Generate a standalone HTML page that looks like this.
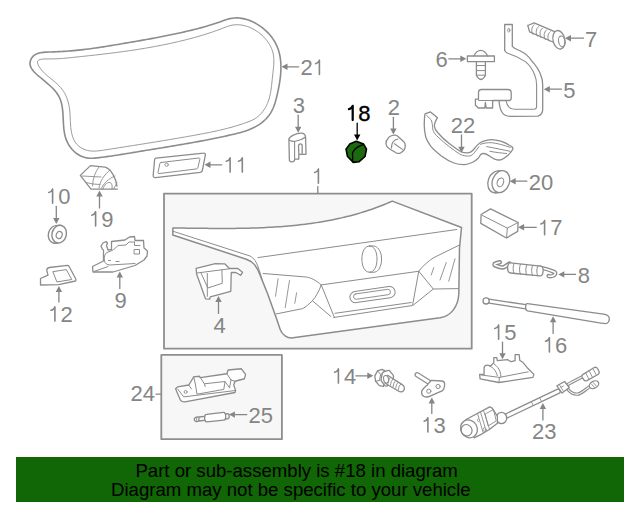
<!DOCTYPE html>
<html><head><meta charset="utf-8"><style>
html,body{margin:0;padding:0;background:#fff;width:640px;height:512px;overflow:hidden}
svg{position:absolute;left:0;top:0;font-family:"Liberation Sans",sans-serif}
</style></head><body>
<svg width="640" height="512" viewBox="0 0 640 512" stroke-linejoin="round" stroke-linecap="round">
<path d="M33.72,55.66 L35.69,54.33 L37.95,53.37 L40.42,52.74 L43.05,52.34 L45.77,52.12 L48.51,52.01 L51.22,51.93 L53.84,51.84 L56.41,51.74 L58.91,51.63 L61.38,51.51 L63.82,51.37 L66.23,51.22 L68.64,51.05 L71.05,50.86 L73.47,50.64 L75.90,50.41 L78.35,50.16 L80.80,49.90 L83.25,49.61 L85.72,49.31 L88.19,49.00 L90.66,48.67 L93.14,48.33 L95.63,47.97 L98.11,47.61 L100.61,47.24 L103.10,46.85 L105.59,46.46 L108.08,46.06 L110.58,45.66 L113.07,45.25 L115.56,44.83 L118.05,44.42 L120.53,43.99 L123.01,43.57 L125.49,43.15 L127.96,42.73 L130.42,42.30 L132.88,41.88 L135.34,41.45 L137.79,41.02 L140.24,40.59 L142.69,40.16 L145.13,39.72 L147.58,39.28 L150.02,38.84 L152.46,38.39 L154.90,37.93 L157.35,37.47 L159.79,37.00 L162.23,36.53 L164.68,36.05 L167.12,35.56 L169.57,35.07 L172.03,34.56 L174.48,34.05 L176.94,33.52 L179.40,32.99 L181.87,32.44 L184.33,31.89 L186.80,31.32 L189.26,30.74 L191.72,30.14 L194.18,29.53 L196.63,28.90 L199.07,28.26 L201.51,27.61 L203.94,26.93 L206.36,26.24 L208.76,25.53 L211.16,24.80 L213.54,24.04 L215.91,23.27 L218.26,22.48 L220.59,21.66 L222.90,20.83 L225.21,20.00 L227.52,19.24 L229.84,18.61 L232.21,18.18 L234.60,17.95 L237.01,17.91 L239.44,18.05 L241.87,18.37 L244.30,18.86 L246.72,19.51 L249.11,20.31 L251.47,21.26 L253.80,22.34 L256.08,23.56 L258.30,24.90 L260.46,26.35 L262.55,27.91 L264.56,29.57 L266.48,31.33 L268.30,33.17 L270.01,35.09 L271.61,37.07 L273.08,39.12 L274.43,41.23 L275.63,43.38 L276.70,45.58 L277.63,47.81 L278.43,50.09 L279.11,52.40 L279.68,54.74 L280.13,57.11 L280.48,59.51 L280.72,61.93 L280.87,64.37 L280.93,66.83 L280.91,69.31 L280.81,71.80 L280.63,74.31 L280.39,76.81 L280.08,79.33 L279.72,81.85 L279.31,84.36 L278.85,86.88 L278.36,89.38 L277.83,91.88 L277.27,94.37 L276.68,96.85 L276.06,99.30 L275.39,101.72 L274.65,104.11 L273.81,106.44 L272.86,108.73 L271.79,110.94 L270.56,113.08 L269.17,115.14 L267.61,117.11 L265.93,118.96 L264.12,120.71 L262.23,122.32 L260.25,123.80 L258.21,125.16 L256.09,126.40 L253.91,127.54 L251.68,128.59 L249.40,129.54 L247.07,130.42 L244.71,131.23 L242.31,131.97 L239.88,132.66 L237.44,133.31 L234.97,133.92 L232.50,134.50 L230.02,135.07 L227.55,135.62 L225.08,136.17 L222.60,136.70 L220.13,137.22 L217.66,137.74 L215.20,138.25 L212.73,138.75 L210.27,139.24 L207.80,139.72 L205.34,140.20 L202.88,140.67 L200.42,141.13 L197.96,141.59 L195.50,142.04 L193.04,142.49 L190.59,142.93 L188.13,143.36 L185.68,143.80 L183.22,144.22 L180.77,144.65 L178.32,145.06 L175.86,145.48 L173.41,145.89 L170.96,146.30 L168.51,146.71 L166.05,147.12 L163.60,147.52 L161.15,147.92 L158.70,148.32 L156.25,148.72 L153.80,149.12 L151.34,149.52 L148.89,149.93 L146.44,150.33 L143.99,150.73 L141.54,151.13 L139.08,151.54 L136.63,151.94 L134.17,152.35 L131.72,152.76 L129.26,153.17 L126.80,153.58 L124.34,153.99 L121.87,154.39 L119.39,154.79 L116.91,155.18 L114.42,155.57 L111.93,155.94 L109.42,156.31 L106.90,156.66 L104.38,157.00 L101.84,157.32 L99.28,157.63 L96.72,157.92 L94.15,158.15 L91.61,158.25 L89.10,158.18 L86.66,157.87 L84.29,157.31 L82.01,156.51 L79.82,155.49 L77.73,154.27 L75.76,152.85 L73.91,151.26 L72.19,149.50 L70.62,147.61 L69.20,145.58 L67.94,143.43 L66.85,141.19 L65.94,138.86 L65.21,136.46 L64.64,134.00 L64.20,131.48 L63.87,128.93 L63.62,126.35 L63.44,123.74 L63.30,121.13 L63.18,118.52 L63.05,115.92 L62.90,113.34 L62.69,110.79 L62.41,108.29 L62.03,105.84 L61.53,103.45 L60.89,101.14 L60.08,98.90 L59.08,96.77 L57.89,94.72 L56.54,92.76 L55.03,90.86 L53.39,89.03 L51.64,87.25 L49.78,85.50 L47.85,83.79 L45.86,82.09 L43.83,80.40 L41.78,78.71 L39.72,77.00 L37.68,75.27 L35.73,73.51 L33.95,71.70 L32.41,69.84 L31.18,67.91 L30.35,65.91 L29.99,63.83 L30.16,61.65 L30.89,59.46 L32.10,57.42Z" stroke="#8c8c8c" stroke-width="1.6" fill="none" />
<path d="M37.76,60.96 L38.89,59.94 L40.77,59.33 L43.18,59.02 L45.93,58.93 L48.80,58.93 L51.60,58.92 L54.25,58.87 L56.77,58.77 L59.18,58.65 L61.50,58.49 L63.76,58.30 L65.97,58.10 L68.17,57.88 L70.35,57.66 L72.56,57.43 L74.78,57.20 L77.01,56.97 L79.27,56.74 L81.53,56.50 L83.81,56.26 L86.10,56.01 L88.41,55.76 L90.72,55.51 L93.04,55.26 L95.37,55.00 L97.70,54.74 L100.04,54.47 L102.38,54.20 L104.73,53.92 L107.08,53.64 L109.43,53.35 L111.79,53.06 L114.14,52.77 L116.48,52.47 L118.83,52.16 L121.17,51.85 L123.51,51.53 L125.83,51.21 L128.16,50.88 L130.47,50.54 L132.78,50.20 L135.09,49.85 L137.39,49.49 L139.68,49.13 L141.97,48.76 L144.26,48.38 L146.54,47.99 L148.82,47.59 L151.10,47.19 L153.38,46.78 L155.65,46.35 L157.92,45.92 L160.20,45.48 L162.47,45.03 L164.74,44.57 L167.02,44.09 L169.30,43.61 L171.57,43.12 L173.85,42.61 L176.14,42.10 L178.42,41.57 L180.71,41.03 L182.99,40.48 L185.28,39.91 L187.57,39.34 L189.85,38.74 L192.13,38.14 L194.41,37.52 L196.68,36.88 L198.95,36.24 L201.21,35.57 L203.47,34.89 L205.71,34.19 L207.95,33.48 L210.18,32.75 L212.40,32.01 L214.60,31.24 L216.80,30.46 L218.98,29.66 L221.14,28.84 L223.29,28.01 L225.44,27.18 L227.58,26.40 L229.74,25.73 L231.92,25.20 L234.13,24.86 L236.37,24.71 L238.63,24.75 L240.90,24.96 L243.17,25.35 L245.42,25.89 L247.66,26.60 L249.87,27.45 L252.04,28.44 L254.16,29.57 L256.22,30.82 L258.22,32.19 L260.14,33.67 L261.97,35.26 L263.71,36.94 L265.34,38.71 L266.86,40.56 L268.25,42.48 L269.51,44.47 L270.62,46.51 L271.58,48.61 L272.38,50.75 L273.00,52.93 L273.45,55.14 L273.73,57.37 L273.86,59.62 L273.87,61.90 L273.78,64.20 L273.62,66.51 L273.39,68.84 L273.13,71.18 L272.85,73.53 L272.59,75.90 L272.34,78.27 L272.10,80.64 L271.85,83.01 L271.59,85.37 L271.30,87.73 L270.96,90.06 L270.58,92.38 L270.13,94.67 L269.60,96.92 L268.99,99.15 L268.28,101.33 L267.45,103.47 L266.51,105.56 L265.43,107.60 L264.22,109.56 L262.89,111.44 L261.43,113.22 L259.84,114.88 L258.12,116.42 L256.28,117.81 L254.32,119.04 L252.25,120.12 L250.09,121.07 L247.88,121.94 L245.65,122.76 L243.41,123.54 L241.17,124.29 L238.93,125.02 L236.68,125.72 L234.42,126.39 L232.17,127.03 L229.91,127.66 L227.65,128.26 L225.38,128.84 L223.11,129.40 L220.84,129.94 L218.57,130.46 L216.29,130.97 L214.02,131.46 L211.74,131.94 L209.45,132.41 L207.17,132.87 L204.89,133.31 L202.60,133.75 L200.31,134.18 L198.03,134.61 L195.74,135.03 L193.45,135.44 L191.16,135.85 L188.86,136.26 L186.57,136.67 L184.28,137.08 L181.99,137.48 L179.69,137.88 L177.40,138.27 L175.10,138.67 L172.80,139.06 L170.51,139.45 L168.21,139.83 L165.91,140.22 L163.61,140.60 L161.31,140.98 L159.01,141.36 L156.71,141.74 L154.40,142.11 L152.10,142.49 L149.79,142.86 L147.49,143.23 L145.18,143.60 L142.87,143.97 L140.57,144.34 L138.26,144.71 L135.95,145.08 L133.63,145.44 L131.32,145.81 L129.01,146.17 L126.70,146.54 L124.38,146.90 L122.06,147.27 L119.75,147.63 L117.43,147.99 L115.11,148.36 L112.79,148.72 L110.47,149.09 L108.14,149.45 L105.82,149.82 L103.50,150.18 L101.17,150.53 L98.85,150.82 L96.54,151.03 L94.24,151.13 L91.95,151.09 L89.67,150.87 L87.42,150.44 L85.18,149.78 L82.99,148.85 L80.89,147.69 L78.96,146.31 L77.26,144.73 L75.80,142.97 L74.57,141.05 L73.54,139.00 L72.70,136.84 L72.02,134.59 L71.49,132.28 L71.09,129.91 L70.79,127.53 L70.57,125.14 L70.42,122.77 L70.31,120.42 L70.21,118.08 L70.11,115.75 L69.98,113.44 L69.79,111.13 L69.52,108.82 L69.16,106.53 L68.70,104.25 L68.14,101.99 L67.47,99.77 L66.68,97.60 L65.77,95.48 L64.73,93.42 L63.56,91.44 L62.25,89.53 L60.80,87.72 L59.22,85.99 L57.53,84.33 L55.75,82.73 L53.92,81.17 L52.05,79.63 L50.18,78.10 L48.32,76.56 L46.50,75.00 L44.76,73.39 L43.10,71.73 L41.56,70.00 L40.16,68.18 L38.93,66.26 L37.97,64.29 L37.51,62.46Z" stroke="#9a9a9a" stroke-width="1.0" fill="none" />
<rect x="164" y="193.6" width="307.7" height="155.1" fill="#f7f7f7" stroke="#8e8e8e" stroke-width="1.8"/>
<rect x="161.3" y="354.9" width="120.6" height="84.3" fill="#f7f7f7" stroke="#8e8e8e" stroke-width="1.8"/>
<path d="M172.86,227.95 L175.65,227.98 L178.44,228.02 L181.23,228.05 L184.03,228.09 L186.84,228.13 L189.64,228.16 L192.45,228.20 L195.26,228.23 L198.07,228.27 L200.89,228.30 L203.71,228.33 L206.53,228.35 L209.35,228.38 L212.18,228.40 L215.00,228.41 L217.83,228.42 L220.66,228.43 L223.49,228.43 L226.32,228.43 L229.15,228.42 L231.98,228.40 L234.82,228.38 L237.65,228.34 L240.48,228.30 L243.32,228.26 L246.15,228.20 L248.99,228.13 L251.82,228.06 L254.65,227.97 L257.48,227.88 L260.32,227.77 L263.15,227.65 L265.98,227.52 L268.80,227.37 L271.63,227.22 L274.46,227.05 L277.28,226.87 L280.10,226.67 L282.92,226.46 L285.74,226.23 L288.55,225.99 L291.37,225.73 L294.18,225.46 L296.98,225.17 L299.79,224.86 L302.59,224.54 L305.39,224.19 L308.18,223.83 L310.97,223.45 L313.76,223.05 L316.54,222.63 L319.32,222.19 L322.10,221.73 L324.87,221.25 L327.63,220.75 L330.40,220.22 L333.15,219.67 L335.90,219.10 L338.65,218.51 L341.39,217.89 L344.13,217.25 L346.86,216.59 L349.58,215.90 L352.30,215.18 L355.01,214.44 L357.72,213.67 L360.42,212.87 L363.11,212.05 L365.80,211.20 L368.48,210.32 L371.15,209.42 L373.82,208.48 L376.48,207.51 L379.13,206.52 L381.77,205.49 L384.41,204.44 L387.04,203.35 L389.66,202.23 L392.27,201.08 L461.5,227.5 L459.5,248 L458.8,294 C458,307 451,316 440,317.8 L293,337.8 C287,338.5 282,334.5 280.2,329.5 L276.4,318.3 L267.6,293.7 L260.5,276.1 C258,269 256,265 251,261.5 L246.25,259.2 L172.8,235 Z" stroke="#8c8c8c" stroke-width="1.5" fill="#ffffff" />
<path d="M172.8,231.2 L250,256 C254,258 256.5,262 258.5,268 L262,279" stroke="#8c8c8c" stroke-width="1.0" fill="none" />
<path d="M257.9,257.6 L456.8,229.5" stroke="#8c8c8c" stroke-width="1.0" fill="none" />
<path d="M369.5,246 C364.5,246 361.9,252 361.9,259 C361.9,266 364.5,272.2 369.5,272.2 C374.5,272.2 377,266 377,259 C377,252 374.5,246 369.5,246Z" stroke="#8c8c8c" stroke-width="1.0" fill="none" />
<path d="M369.5,246 C373,245.5 375,246 376.5,247 C379.5,249 381.6,253.5 381.6,259 C381.6,264.5 379.5,270 376.5,271.5 C374.5,272.5 372,272.5 369.5,272.2" stroke="#8c8c8c" stroke-width="1.0" fill="none" />
<path d="M263.2,273.5 L306.2,277 C310,277.5 316,280 321.2,284.9 C319.5,290 316,297 312.4,300.7 C309,304 306,307 302.7,308.6 L276.4,313.9" stroke="#8c8c8c" stroke-width="1.0" fill="none" />
<path d="M278.1,278.7 L275.5,296.3 M289.5,280.5 L285.2,307.7 M296.6,292.8 L294.8,303.3" stroke="#8c8c8c" stroke-width="0.9" fill="none" />
<path d="M321.2,284.9 L418.75,271.25 M321.2,284.9 L334.4,317.4 M312.4,300.7 L330.9,316.5 M418.75,271.25 L412.5,305.5 L333.75,317.5 M335,313.3 L411.3,302.5" stroke="#8c8c8c" stroke-width="1.0" fill="none" />
<path d="M418.75,271.25 L433.3,289 L458.5,288.6 M433.3,289 L413.2,305.2 M418.75,271.25 C422,267 428,261 434,257.5 L459.5,245" stroke="#8c8c8c" stroke-width="1.0" fill="none" />
<path d="M431.25,275 L433.75,267.5 M440,280 L446.25,262.5 M448.75,281.25 L455,258.75" stroke="#8c8c8c" stroke-width="0.9" fill="none" />
<rect x="349.70" y="289.00" width="45.6" height="11.2" rx="5.6" transform="rotate(-8.2 372.5 294.6)" fill="none" stroke="#8c8c8c" stroke-width="1.0"/>
<rect x="353.35" y="291.60" width="37.3" height="5.4" rx="2.7" transform="rotate(-8.2 372.0 294.3)" fill="none" stroke="#8c8c8c" stroke-width="0.9"/>
<text x="300.49" y="75.10" fill="#858585" font-size="22.0">2</text>
<path d="M319.4,74.5 L319.4,60.3 M319.4,60.4 C318.5,62.5 317.0,63.5 315.6,63.7" stroke="#858585" stroke-width="1.6" fill="none"/>
<text x="584.97" y="46.60" fill="#858585" font-size="22.0">7</text>
<text x="435.58" y="66.90" fill="#858585" font-size="22.0">6</text>
<text x="563.22" y="97.50" fill="#858585" font-size="22.0">5</text>
<text x="292.76" y="113.40" fill="#858585" font-size="22.0">3</text>
<text x="387.79" y="115.10" fill="#858585" font-size="22.0">2</text>
<text x="450.64" y="133.10" fill="#858585" font-size="22.0">2</text>
<text x="462.88" y="133.10" fill="#858585" font-size="22.0">2</text>
<path d="M230.1,172.1 L230.1,157.9 M230.1,158.0 C229.2,160.1 227.7,161.1 226.3,161.3" stroke="#858585" stroke-width="1.6" fill="none"/>
<path d="M242.3,172.1 L242.3,157.9 M242.3,158.0 C241.4,160.1 239.9,161.1 238.5,161.3" stroke="#858585" stroke-width="1.6" fill="none"/>
<path d="M318.4,183.3 L318.4,169.1 M318.4,169.2 C317.5,171.3 315.9,172.3 314.6,172.5" stroke="#858585" stroke-width="1.6" fill="none"/>
<text x="528.64" y="189.60" fill="#858585" font-size="22.0">2</text>
<text x="540.88" y="189.60" fill="#858585" font-size="22.0">0</text>
<path d="M52.6,203.3 L52.6,189.1 M52.6,189.2 C51.7,191.3 50.2,192.3 48.8,192.5" stroke="#858585" stroke-width="1.6" fill="none"/>
<text x="58.19" y="203.90" fill="#858585" font-size="22.0">0</text>
<path d="M95.6,226.0 L95.6,211.8 M95.6,211.9 C94.7,214.0 93.2,215.0 91.8,215.2" stroke="#858585" stroke-width="1.6" fill="none"/>
<text x="101.19" y="226.60" fill="#858585" font-size="22.0">9</text>
<path d="M544.6,234.8 L544.6,220.6 M544.6,220.7 C543.7,222.8 542.2,223.8 540.8,224.0" stroke="#858585" stroke-width="1.6" fill="none"/>
<text x="550.19" y="235.40" fill="#858585" font-size="22.0">7</text>
<text x="577.64" y="282.90" fill="#858585" font-size="22.0">8</text>
<path d="M54.9,321.1 L54.9,306.9 M54.9,307.0 C54.0,309.1 52.5,310.1 51.0,310.3" stroke="#858585" stroke-width="1.6" fill="none"/>
<text x="60.44" y="321.70" fill="#858585" font-size="22.0">2</text>
<text x="114.47" y="307.50" fill="#858585" font-size="22.0">9</text>
<text x="213.40" y="332.50" fill="#858585" font-size="22.0">4</text>
<path d="M549.4,352.0 L549.4,337.8 M549.4,337.9 C548.5,340.0 547.0,341.0 545.5,341.2" stroke="#858585" stroke-width="1.6" fill="none"/>
<text x="554.94" y="352.60" fill="#858585" font-size="22.0">6</text>
<path d="M498.6,339.3 L498.6,325.1 M498.6,325.2 C497.7,327.3 496.2,328.3 494.8,328.5" stroke="#858585" stroke-width="1.6" fill="none"/>
<text x="504.19" y="339.90" fill="#858585" font-size="22.0">5</text>
<path d="M338.4,383.1 L338.4,368.9 M338.4,369.0 C337.5,371.1 335.9,372.1 334.6,372.3" stroke="#858585" stroke-width="1.6" fill="none"/>
<text x="343.94" y="383.70" fill="#858585" font-size="22.0">4</text>
<path d="M427.9,432.0 L427.9,417.8 M427.9,417.9 C427.0,420.0 425.4,421.0 424.1,421.2" stroke="#858585" stroke-width="1.6" fill="none"/>
<text x="433.44" y="432.60" fill="#858585" font-size="22.0">3</text>
<text x="531.89" y="438.90" fill="#858585" font-size="22.0">2</text>
<text x="544.13" y="438.90" fill="#858585" font-size="22.0">3</text>
<text x="130.49" y="401.40" fill="#858585" font-size="22.0">2</text>
<text x="142.73" y="401.40" fill="#858585" font-size="22.0">4</text>
<text x="248.49" y="422.90" fill="#858585" font-size="22.0">2</text>
<text x="260.73" y="422.90" fill="#858585" font-size="22.0">5</text>
<path d="M352.7,120.0 L352.7,105.8 M352.7,105.9 C351.8,108.0 350.3,109.0 348.9,109.2" stroke="#000000" stroke-width="2.25" fill="none"/>
<text x="358.29" y="120.60" fill="#000000" font-size="22.0" stroke="#000000" stroke-width="0.35">8</text>
<line x1="298.6" y1="66.8" x2="286.5" y2="66.8" stroke="#858585" stroke-width="1.3"/>
<path d="M281.5,66.8 L287.5,63.6 L287.5,70.0 Z" fill="#858585"/>
<line x1="583.5" y1="38.2" x2="570.0" y2="38.2" stroke="#858585" stroke-width="1.3"/>
<path d="M565.0,38.2 L571.0,35.0 L571.0,41.4 Z" fill="#858585"/>
<line x1="448.8" y1="58.8" x2="461.3" y2="58.8" stroke="#858585" stroke-width="1.3"/>
<path d="M466.3,58.8 L460.3,62.0 L460.3,55.6 Z" fill="#858585"/>
<line x1="561.5" y1="89.2" x2="548.8" y2="89.2" stroke="#858585" stroke-width="1.3"/>
<path d="M543.8,89.2 L549.8,86.0 L549.8,92.4 Z" fill="#858585"/>
<line x1="298.2" y1="115.2" x2="298.2" y2="127.7" stroke="#858585" stroke-width="1.3"/>
<path d="M298.2,132.7 L295.0,126.7 L301.4,126.7 Z" fill="#858585"/>
<line x1="357.2" y1="123.1" x2="357.2" y2="135.4" stroke="#000000" stroke-width="1.3"/>
<path d="M357.2,140.4 L354.0,134.4 L360.4,134.4 Z" fill="#000000"/>
<line x1="393.4" y1="117.3" x2="393.4" y2="129.6" stroke="#858585" stroke-width="1.3"/>
<path d="M393.4,134.6 L390.2,128.6 L396.6,128.6 Z" fill="#858585"/>
<line x1="461.5" y1="135.0" x2="461.5" y2="147.8" stroke="#858585" stroke-width="1.3"/>
<path d="M461.5,152.8 L458.3,146.8 L464.7,146.8 Z" fill="#858585"/>
<line x1="221.7" y1="164.8" x2="209.5" y2="164.8" stroke="#858585" stroke-width="1.3"/>
<path d="M204.5,164.8 L210.5,161.6 L210.5,168.0 Z" fill="#858585"/>
<line x1="317.8" y1="186.6" x2="317.8" y2="193" stroke="#858585" stroke-width="1.3"/>
<line x1="526.8" y1="181.2" x2="514.7" y2="181.2" stroke="#858585" stroke-width="1.3"/>
<path d="M509.7,181.2 L515.7,178.0 L515.7,184.4 Z" fill="#858585"/>
<line x1="56.3" y1="206.3" x2="56.3" y2="219.0" stroke="#858585" stroke-width="1.3"/>
<path d="M56.3,224.0 L53.1,218.0 L59.5,218.0 Z" fill="#858585"/>
<line x1="99.5" y1="208.0" x2="99.5" y2="195.5" stroke="#858585" stroke-width="1.3"/>
<path d="M99.5,190.5 L102.7,196.5 L96.3,196.5 Z" fill="#858585"/>
<line x1="536.3" y1="227.3" x2="523.1" y2="227.3" stroke="#858585" stroke-width="1.3"/>
<path d="M518.1,227.3 L524.1,224.1 L524.1,230.5 Z" fill="#858585"/>
<line x1="575.5" y1="274.4" x2="563.3" y2="274.4" stroke="#858585" stroke-width="1.3"/>
<path d="M558.3,274.4 L564.3,271.2 L564.3,277.6 Z" fill="#858585"/>
<line x1="58.9" y1="302.1" x2="58.9" y2="291.1" stroke="#858585" stroke-width="1.3"/>
<path d="M58.9,286.1 L62.1,292.1 L55.7,292.1 Z" fill="#858585"/>
<line x1="119.8" y1="288.6" x2="119.8" y2="276.6" stroke="#858585" stroke-width="1.3"/>
<path d="M119.8,271.6 L123.0,277.6 L116.6,277.6 Z" fill="#858585"/>
<line x1="218.5" y1="313.4" x2="218.5" y2="301.0" stroke="#858585" stroke-width="1.3"/>
<path d="M218.5,296.0 L221.7,302.0 L215.3,302.0 Z" fill="#858585"/>
<line x1="553.1" y1="333.4" x2="553.1" y2="321.3" stroke="#858585" stroke-width="1.3"/>
<path d="M553.1,316.3 L556.3,322.3 L549.9,322.3 Z" fill="#858585"/>
<line x1="502.5" y1="342.2" x2="502.5" y2="354.2" stroke="#858585" stroke-width="1.3"/>
<path d="M502.5,359.2 L499.3,353.2 L505.7,353.2 Z" fill="#858585"/>
<line x1="355.8" y1="375.8" x2="368.3" y2="375.8" stroke="#858585" stroke-width="1.3"/>
<path d="M373.3,375.8 L367.3,379.0 L367.3,372.6 Z" fill="#858585"/>
<line x1="431.8" y1="413.4" x2="431.8" y2="402.5" stroke="#858585" stroke-width="1.3"/>
<path d="M431.8,397.5 L435.0,403.5 L428.6,403.5 Z" fill="#858585"/>
<line x1="542.9" y1="420.0" x2="542.9" y2="408.0" stroke="#858585" stroke-width="1.3"/>
<path d="M542.9,403.0 L546.1,409.0 L539.7,409.0 Z" fill="#858585"/>
<line x1="156.1" y1="394.2" x2="160.5" y2="394.2" stroke="#858585" stroke-width="1.3"/>
<line x1="246.8" y1="414.6" x2="233.9" y2="414.6" stroke="#858585" stroke-width="1.3"/>
<path d="M228.9,414.6 L234.9,411.4 L234.9,417.8 Z" fill="#858585"/>
<rect x="16" y="457" width="608" height="45" fill="#116605"/>
<text x="135.4" y="476.8" font-size="18.6" fill="#000">Part or sub-assembly is #18 in diagram</text>
<text x="111" y="496.2" font-size="18.6" fill="#000">Diagram may not be specific to your vehicle</text>
<path d="M288.9,139 C289.5,136.5 296,133 301.5,133.2 C303.5,133.3 305.3,134.8 305.6,137 L306,154.3 L298.9,154.3 L298.5,146 C298.6,144.5 299.4,143.8 300.4,143.8 C301.4,143.8 302.2,144.6 302.2,146 L302.2,154.3 M298.9,154.3 L298.7,159.1 L294.8,159.1 L294.3,160.8 C293,162.2 290.5,162.3 289.4,160.6 L288.9,139" stroke="#8c8c8c" stroke-width="1.3" fill="none" />
<path d="M289.4,140 C291,141.3 293,141.6 295,141.3 C299,140.5 303,139 305.4,137 M294.6,141.3 L294.6,159" stroke="#8c8c8c" stroke-width="1.1" fill="none" />
<path d="M394.2,135.2 C391.5,135.5 389,136.8 388,138.5 C386.5,140 385.8,142 386,144 C386.3,146.3 387.3,147.6 389,148.5 L396.4,153 C398,153.6 399.5,153.6 400.5,153 C403.5,151 405.3,149 405.2,146.4 L405,143.7 C404.8,142.8 404,141.8 403,141 L397.5,136 C396.5,135.3 395.3,135.1 394.2,135.2Z" stroke="#8c8c8c" stroke-width="1.3" fill="none" />
<path d="M391.5,148 C391.5,145 392.3,142.5 393.5,141.3 C394.8,140 396.3,139.2 398,139 M394.5,143.7 L402.4,149.4" stroke="#8c8c8c" stroke-width="1.1" fill="none" />
<path d="M346,149.2 L349.7,144.1 L356.2,141.2 L363.6,144.1 L366.5,149.2 L365,156.5 L359.2,161.7 L353.3,162.4 L347.5,156.5 Z" stroke="#000" stroke-width="1.6" fill="#1c6a0e" />
<path d="M352.8,161.8 L352.5,153 C354,149.5 358,146.3 363,144.6" stroke="#000" stroke-width="1.3" fill="none" />
<path d="M156,158.2 L203.5,153.2 C205,153 205.6,154 205.3,155.2 L202.3,170.8 C202,171.8 201.2,172.2 200.4,172.3 L155.5,177.6 C154,177.8 153,176.8 153.2,175.3 L154.6,159.6 C154.8,158.8 155.2,158.3 156,158.2Z" stroke="#8c8c8c" stroke-width="1.3" fill="none" />
<path d="M161,162.5 L198.8,158 C199.6,157.9 200,158.4 199.9,159.2 L197.8,167.9 C197.6,168.5 197.2,168.8 196.6,168.9 L159,173.6 C158.3,173.7 157.9,173.2 158,172.4 L159.9,163.4 C160.1,162.9 160.5,162.6 161,162.5Z" stroke="#8c8c8c" stroke-width="1.0" fill="none" />
<circle cx="166.6" cy="164.7" r="1.7" fill="none" stroke="#8c8c8c" stroke-width="0.9"/>
<path d="M80.3,175.4 L90.5,165.6 L105.2,167.2 C111,169 116,178 117,186.2 M80.3,175.4 L91,189.1 L117.4,189.1" stroke="#8c8c8c" stroke-width="1.3" fill="none" />
<path d="M82,176 L101,177 M86,182.5 L93,184 L100,184.5 M99,167 C95,172 93,178 92.5,186 M110,170 C104,175 100,181 99,188 M115,176 C108,179 104,183 101,189 M103,189 C104,185 107,182 110,182.5 C112,183 112.5,186 112,189 M113.5,189 L117,183" stroke="#8c8c8c" stroke-width="0.9" fill="none" />
<ellipse cx="55.6" cy="234.4" rx="7.2" ry="8.9" transform="rotate(15 55.6 234.4)" fill="#fff" stroke="#8c8c8c" stroke-width="1.4"/>
<path d="M56.3,225.6 L59.9,225.3 M54.8,243.3 L58.4,243" stroke="#8c8c8c" stroke-width="1.4" fill="none" />
<ellipse cx="59.2" cy="234.1" rx="7.2" ry="8.9" transform="rotate(15 59.2 234.1)" fill="#fff" stroke="#8c8c8c" stroke-width="1.4"/>
<ellipse cx="59.2" cy="235" rx="2.9" ry="3.6" transform="rotate(20 59.2 235)" fill="none" stroke="#8c8c8c" stroke-width="1.2"/>
<path d="M196.1,268.3 L215.3,263.6 L224.7,263.8 L229.4,268.5 L237.8,268.5 L242.5,272.3 L240.6,275.3 L235.9,272.5 L231.25,272.3 L230.8,291.3 L210.2,296.9 L209.7,299.2 L205.5,298.8 L196.6,274 Z" stroke="#8c8c8c" stroke-width="1.3" fill="#ffffff" />
<path d="M197,273 L229.4,268.8 M200.8,272.5 L207.8,288 L222.3,283.3 L221.9,270.2 M207.3,273.5 L207.3,296.4" stroke="#8c8c8c" stroke-width="1.0" fill="none" />
<path d="M93,272 L113,272 L135,265.5 L144,260 L147,256 L147.5,251 L144,248 L143.5,240.5 L135,240.5 L134.5,236.5 L129.5,237 L125,240 L111.5,241.5 L111.5,249.5 L108,250 L106.5,245.5 L107.5,243 L106,241.5 L103,243 L101,246 L102.5,249.5 L103.5,250 L103.5,261 L92.5,266.5 Z" stroke="#8c8c8c" stroke-width="1.3" fill="#ffffff" />
<path d="M94,271.5 L108,266.5 M104.2,260.5 C105,263.5 107,265 110,265 L135,263.5 M104.2,260.5 C104,256 105,253 108,252 C112,251 115,249 118,245.5 L126,245 L129,242 L134,242" stroke="#8c8c8c" stroke-width="1.0" fill="none" />
<path d="M134.5,249.5 L139.5,249.5 L139.5,254 L134.5,254 Z M134.5,242 L134.5,245.5 L140,245.5 M108.5,260.5 L110.5,260.5 M116,261.5 L119,261.5" stroke="#8c8c8c" stroke-width="1.0" fill="none" />
<path d="M40.5,278.5 L40.5,285 L58.7,284.6 L75.5,281 C76.2,280.5 76.2,279.8 75.8,279 L69,266.2 C68.6,265.6 68,265.4 67.3,265.4 L49.4,267.5 C47.5,267.9 46.6,269 46.8,270.6 L48,275.1 Z" stroke="#8c8c8c" stroke-width="1.3" fill="none" />
<path d="M53.2,271.6 L66.3,269.6 L71.8,279.5 L57.3,281.9 Z" stroke="#8c8c8c" stroke-width="1.0" fill="none" />
<path d="M527.8,25.5 L534.1,22.9 L557,32.6 M527.8,25.5 L529.6,31.9 L552.9,42" stroke="#8c8c8c" stroke-width="1.3" fill="none" />
<ellipse cx="558.9" cy="39.8" rx="5.9" ry="9.4" transform="rotate(-12 558.9 39.8)" fill="#fff" stroke="#8c8c8c" stroke-width="1.3"/>
<ellipse cx="561.8" cy="41.4" rx="3.2" ry="5.4" transform="rotate(-12 561.8 41.4)" fill="none" stroke="#8c8c8c" stroke-width="1.1"/>
<path d="M534.1,24.8 C531.1,27.3 531.1,31.3 532.9,34.3" stroke="#8c8c8c" stroke-width="1.0" fill="none" />
<path d="M538.6,26.6 C535.6,29.1 535.6,33.1 537.4,36.1" stroke="#8c8c8c" stroke-width="1.0" fill="none" />
<path d="M542.4,28.2 C539.4,30.7 539.4,34.7 541.2,37.7" stroke="#8c8c8c" stroke-width="1.0" fill="none" />
<path d="M546.5,30.0 C543.5,32.5 543.5,36.5 545.3,39.5" stroke="#8c8c8c" stroke-width="1.0" fill="none" />
<path d="M550.3,31.6 C547.3,34.1 547.3,38.1 549.1,41.1" stroke="#8c8c8c" stroke-width="1.0" fill="none" />
<path d="M467.4,56 L494.4,56 L494.4,61.6 L467.4,61.6 Z" stroke="#8c8c8c" stroke-width="1.3" fill="none" />
<path d="M473.8,56 C475.5,52.5 478,50.3 480.7,50.3 C483.4,50.3 486,52.5 487.7,56" stroke="#8c8c8c" stroke-width="1.3" fill="none" />
<path d="M476.4,61.6 L476.4,75.5 C477.5,77.5 479,79.3 480.9,79.5 C482.8,79.3 484.3,77.5 485.4,75.5 L485.4,61.6" stroke="#8c8c8c" stroke-width="1.3" fill="none" />
<path d="M476.4,65.5 L485.4,65.5 M476.4,70.6 L485.4,70.6 M476.4,75.2 L485.4,75.2" stroke="#8c8c8c" stroke-width="1.0" fill="none" />
<path d="M504.7,50.5 L504.7,24.5 L512.3,24.5 L512.3,46.4 C514,48.5 516,49.5 519.4,50.5 C525,53 529,56.5 531.5,60.6 C535.5,65 539,70 540.7,74.8 C542,78 542.7,81 542.7,85 L542.7,109.3 C542.7,112.5 541.5,115 538,116.2 L511.2,116.4 C507,116.4 504,115.5 502.2,112.5 C500.5,110 499.5,107 499.1,101.2" stroke="#8c8c8c" stroke-width="1.3" fill="none" />
<path d="M504.7,50.5 C505.5,52 506.5,53 508.2,53.5 C515,55.5 520,58 525.4,61.6 C530,65.5 533,70 534.6,74.8 C536,78 536.6,81 536.6,85 L536.6,106 C536.6,108 535.8,109.3 534,109.3 L517.3,109.3 C513,109.3 510.5,108.5 509.2,107.3 C507.5,105.5 506.5,103.5 506.2,101.2" stroke="#8c8c8c" stroke-width="1.1" fill="none" />
<ellipse cx="508.8" cy="30.2" rx="1.1" ry="1.9" fill="none" stroke="#8c8c8c" stroke-width="0.9"/>
<path d="M481.5,89.5 L508,89.5 C510,89.5 511.2,90.8 511.2,92.8 L511.2,98 C511.2,99.6 510.4,100.5 509,100.5 L492.6,100.5 L492.6,108 L486.2,108 L485.4,102.5 L484.8,108 L478.3,108 L475.4,105 L475.4,99.1 L478.5,99.1 L478.5,92.8 C478.5,90.8 479.5,89.5 481.5,89.5Z" stroke="#8c8c8c" stroke-width="1.3" fill="#fff" />
<path d="M478.5,99.1 L478.5,100.5 L492.6,100.5" stroke="#8c8c8c" stroke-width="1.0" fill="none" />
<path d="M425,113.8 L430.5,111.9 L437.5,117.7 C435.5,121 434.2,124 434.4,126.3 C434.6,129 436,131 438.3,133.3 C441.5,137 445,140.5 449.25,143.5 C453,146.5 456.5,149 460.2,151.3 C463,152.6 465.5,153 468,152.9 C470,152.6 471.5,151.8 472.7,150.5 C474.5,148.5 476,146.5 477.4,145.1 C479.5,143 481.5,141.8 483.6,141.2 C486.5,140 489,139.6 491.4,139.6 C494.5,139.6 497.5,140.2 500.8,141.2 C504.5,142.5 508.5,144.5 511.75,146.6 C513,147.5 513.2,148.8 512.5,149.75 C511,152.5 509,154.5 507,156 C505,157.8 503,159.2 500.8,159.9 C498.5,160.2 496.5,159.8 494.6,159.1 C492,158 489.5,156 486.75,154.4 C485,153.5 483.3,153.3 482,153.7 C480.8,154.3 480,155 479.7,156 C479.2,157 478.8,157.8 478.2,158.3 C476.5,160 474.5,161.4 472.7,162.25 C470,163.5 467.5,164.3 464.9,164.6 C461,164.8 457.5,164.2 453.9,163 C449.5,161.3 445.5,159 441.4,156 C437,152.5 433.5,149.5 430.5,145.8 C428.3,143 426.8,140 425.8,137.25 C424.8,133 424.2,129 424.25,124.75 C424.3,120 424.5,116.5 425,113.8Z" stroke="#8c8c8c" stroke-width="1.3" fill="none" />
<path d="M426.6,115.4 L431.3,120 C432.3,123 432.6,126.5 432.8,129.4 C433.5,132.5 435.5,135 438.3,137.25 C441.5,140.5 445.5,143.8 449.25,146.6 C453,149.5 456.5,152 460.2,154.4 C463.5,155.8 466.5,156.3 469.6,156 C471.5,155.5 473,154.5 474.25,152.9 C476,150.8 477.5,148.5 479,146.6" stroke="#8c8c8c" stroke-width="1.0" fill="none" />
<path d="M480.5,144.3 C484,143 487.5,142.6 491.4,142.7 C497,143.2 504,145.2 510.2,147.4 M486.75,146.6 C494,148 502,149.6 510.2,151.3 M489.9,151.3 C496,152.5 501.5,153 506.5,153.5" stroke="#8c8c8c" stroke-width="1.0" fill="none" />
<ellipse cx="496.6" cy="181.9" rx="8.5" ry="11.2" transform="rotate(20 496.6 181.9)" fill="#fff" stroke="#8c8c8c" stroke-width="1.3"/>
<path d="M498.2,171 L502.5,170.7 M495,192.8 L499.3,192.5" stroke="#8c8c8c" stroke-width="1.3" fill="none" />
<ellipse cx="500.9" cy="181.6" rx="8.5" ry="11.2" transform="rotate(20 500.9 181.6)" fill="#fff" stroke="#8c8c8c" stroke-width="1.3"/>
<ellipse cx="500.4" cy="182.3" rx="3.1" ry="4.5" transform="rotate(20 500.4 182.3)" fill="none" stroke="#8c8c8c" stroke-width="1.1"/>
<path d="M490.5,208.9 L481.1,214.5 L480.8,223.4 L506.4,238 L517.7,231.4 L518.1,222.5 Z" stroke="#8c8c8c" stroke-width="1.3" fill="none" />
<path d="M482.5,215.5 L507.3,228.1 L518.1,222.5 M507.3,228.1 L506.6,237.5" stroke="#8c8c8c" stroke-width="1.0" fill="none" />
<path d="M509.5,263.5 C507.5,264.5 506,266.5 503.5,267.3 C502,267.7 500.5,267.3 499,266.8 L495.5,265.6 C494,265 494,263.9 495.5,263.4 L499.8,262.2" stroke="#8c8c8c" stroke-width="4.4" fill="none"/>
<path d="M509.5,263.5 C507.5,264.5 506,266.5 503.5,267.3 C502,267.7 500.5,267.3 499,266.8 L495.5,265.6 C494,265 494,263.9 495.5,263.4 L499.8,262.2" stroke="#fff" stroke-width="1.6" fill="none"/>
<path d="M540,267.5 C545,268.5 550,270 554.5,272 C556,273 555.5,274.5 553.5,275.5 C552,276.3 550,276.5 548.5,276" stroke="#8c8c8c" stroke-width="4.2" fill="none"/>
<path d="M540,267.5 C545,268.5 550,270 554.5,272 C556,273 555.5,274.5 553.5,275.5 C552,276.3 550,276.5 548.5,276" stroke="#fff" stroke-width="1.6" fill="none"/>
<path d="M510.5,262.8 L540.5,266.2 C542.5,266.5 543.3,269 543.1,271.5 C542.9,274 542,276 540,275.9 L510.5,273 C508.5,272.8 507.5,270.5 507.6,267.8 C507.7,265 508.7,262.6 510.5,262.8Z" stroke="#8c8c8c" stroke-width="1.3" fill="#fff" />
<path d="M514.0,263.6 C512.8,266.4 512.8,270.4 514.0,273.8" stroke="#8c8c8c" stroke-width="1.0" fill="none" />
<path d="M520.4,264.3 C519.2,267.1 519.2,271.1 520.4,274.4" stroke="#8c8c8c" stroke-width="1.0" fill="none" />
<path d="M526.7,265.0 C525.5,267.8 525.5,271.8 526.7,275.0" stroke="#8c8c8c" stroke-width="1.0" fill="none" />
<path d="M532.5,265.7 C531.3,268.5 531.3,272.5 532.5,275.5" stroke="#8c8c8c" stroke-width="1.0" fill="none" />
<path d="M537.7,266.2 C536.5,269.0 536.5,273.0 537.7,276.0" stroke="#8c8c8c" stroke-width="1.0" fill="none" />
<circle cx="486.1" cy="300.9" r="3.1" fill="#fff" stroke="#8c8c8c" stroke-width="1.3"/>
<path d="M489,299.2 L525.9,304.7 M489,303.1 L525.9,308.8" stroke="#8c8c8c" stroke-width="1.3" fill="none" />
<path d="M527.5,303.6 L603.5,314.1 C606.5,314.5 609.2,316 609.3,318.5 C609.4,321 608,323.6 605.5,323.7 C603.5,323.8 601.5,323 599.5,322.8 L527.5,310.9 C526,310.6 525.6,309.5 525.6,307.3 C525.6,305 526,303.4 527.5,303.6Z" stroke="#8c8c8c" stroke-width="1.3" fill="#fff" />
<path d="M479.6,374.4 L480.1,378.9 L498.9,382.5 L532.9,377.4 L533.9,374.4 L527.8,368.3 L522.7,362.2 L519.7,360.2 L519.2,354.6 L515.1,354.6 L515.1,360.7 L511.1,361.7 L507.5,359.6 L497.3,360.7 L496.8,357.6 L493.8,357.6 L493.8,362.7 C492.5,364 491.5,365 490.2,366.3 C489,365.3 487.8,365 486.7,365.2 C485,365.5 484.1,366.5 484.1,368 L484.1,374.4 Z" stroke="#8c8c8c" stroke-width="1.3" fill="#fff" />
<path d="M480.6,374.9 L499.4,377.4 L528.3,371.8 M499.4,377.4 L498.9,382.3 M490.2,366.3 C493,367.5 495,370 496.2,372.5 C496.8,374 497.2,375 497.3,375.6 M494.3,364.2 C497,366 499,368.5 500,371.5 C500.6,373.5 500.9,375.5 500.9,376.9" stroke="#8c8c8c" stroke-width="1.0" fill="none" />
<path d="M385.5,371.5 L384.5,370.6 L382,369.3 L377.6,370.9 L374.8,375.9 L375.6,381.3 L379.4,385.6 L383.5,386.4 Z" stroke="#8c8c8c" stroke-width="1.3" fill="#fff" />
<path d="M377.6,370.9 L380.6,374.4 L379.6,380.4 M380.6,374.4 L384.5,373.2 M375.6,381.3 L379.6,380.4" stroke="#8c8c8c" stroke-width="1.0" fill="none" />
<path d="M389.0,370.4 C389.9,370.7 390.6,372.1 391.4,373.0 C392.1,374.0 393.2,374.9 393.5,376.1 C393.7,377.3 393.1,378.8 392.9,380.1 C392.6,381.4 392.5,383.1 391.8,383.9 C391.1,384.8 389.8,384.9 388.8,385.2 C387.8,385.6 386.6,386.3 385.6,386.0 C384.7,385.7 384.0,384.3 383.2,383.4 C382.5,382.4 381.4,381.5 381.1,380.3 C380.9,379.1 381.5,377.6 381.7,376.3 C382.0,375.0 382.1,373.3 382.8,372.5 C383.5,371.6 384.8,371.5 385.8,371.2 C386.8,370.8 388.0,370.1 389.0,370.4Z" stroke="#8c8c8c" stroke-width="1.3" fill="#fff" />
<path d="M387.6,375.3 L402.2,384.6 C404.4,386 405,388.6 403.8,390.3 C402.6,392 400.3,392.2 398.3,391 L384.8,383" stroke="#8c8c8c" stroke-width="1.3" fill="#fff" />
<ellipse cx="386.1" cy="379.3" rx="2.5" ry="3.8" transform="rotate(-10 386.1 379.3)" fill="#fff" stroke="#8c8c8c" stroke-width="1.1"/>
<path d="M390.4,377.4 C389.0,378.8 388.2,380.8 387.9,383.3" stroke="#8c8c8c" stroke-width="0.95" fill="none" />
<path d="M393.0,379.0 C391.6,380.4 390.8,382.4 390.5,384.9" stroke="#8c8c8c" stroke-width="0.95" fill="none" />
<path d="M395.6,380.7 C394.2,382.1 393.4,384.1 393.1,386.6" stroke="#8c8c8c" stroke-width="0.95" fill="none" />
<path d="M398.2,382.3 C396.8,383.7 396.0,385.7 395.7,388.2" stroke="#8c8c8c" stroke-width="0.95" fill="none" />
<path d="M400.8,384.0 C399.4,385.4 398.6,387.4 398.3,389.9" stroke="#8c8c8c" stroke-width="0.95" fill="none" />
<path d="M417.2,374.8 L429.5,382.5" stroke="#8c8c8c" stroke-width="5.4" fill="none"/>
<path d="M417.2,374.8 L429.5,382.5" stroke="#fff" stroke-width="3.0" fill="none"/>
<path d="M427.3,384.9 L431.3,380.3 L441.9,381 C443.8,381.3 444.9,383 444.6,385.3 C444.4,387.5 443.8,389.3 442.6,390.6 L430.6,395.9 C428.8,396.8 427,397.2 425.3,396.9 C423,396.4 421.5,394.5 421.6,392 C421.8,389.5 424.5,387.5 427.3,384.9Z" stroke="#8c8c8c" stroke-width="1.3" fill="#fff" />
<circle cx="428.8" cy="391.2" r="2.1" fill="none" stroke="#8c8c8c" stroke-width="1"/>
<circle cx="438.1" cy="386.5" r="2.1" fill="none" stroke="#8c8c8c" stroke-width="1"/>
<path d="M503,417.6 L558,391.4" stroke="#8c8c8c" stroke-width="5.6" fill="none"/>
<path d="M503,417.6 L558,391.4" stroke="#fff" stroke-width="3.0" fill="none"/>
<path d="M531.6,402.3 L532.9,404.9 M539.9,398.4 L541.3,401.1" stroke="#8c8c8c" stroke-width="0.9" fill="none" />
<path d="M567,385 C572,382 577,379.5 583,376.5" stroke="#8c8c8c" stroke-width="3.4" fill="none"/>
<path d="M567,385 C572,382 577,379.5 583,376.5" stroke="#fff" stroke-width="1.1" fill="none"/>
<path d="M568,389.5 C571,393 574,394.8 578.4,394 C582,393 585,390 589,387" stroke="#8c8c8c" stroke-width="3.4" fill="none"/>
<path d="M568,389.5 C571,393 574,394.8 578.4,394 C582,393 585,390 589,387" stroke="#fff" stroke-width="1.1" fill="none"/>
<path d="M556.9,385.8 L564.6,381.5 L569.3,387.5 L562,393.1 Z" stroke="#8c8c8c" stroke-width="1.3" fill="#fff" />
<path d="M559.5,385 L563,390.5 M561,387.3 L563.5,386" stroke="#8c8c8c" stroke-width="0.9" fill="none" />
<path d="M582.7,374.6 L593.8,367.7 C595.5,366.8 596.5,367 597.5,368.5 L599,371.5 C599.6,373 599,374 597.5,374.8 L587,380.6 C585.5,381.3 584.5,381 583.7,379.6 L582,377 C581.5,376 581.8,375.2 582.7,374.6Z" stroke="#8c8c8c" stroke-width="1.3" fill="#fff" />
<path d="M585.8,373 L588.8,379 M589.5,371.5 L592.2,376.8 M593.3,369.3 L596,374.5" stroke="#8c8c8c" stroke-width="0.9" fill="none" />
<ellipse cx="594" cy="384.7" rx="5" ry="3.4" transform="rotate(-28 594 384.7)" fill="#fff" stroke="#8c8c8c" stroke-width="1.3"/>
<path d="M591.5,384 L594.5,387.5 M593.5,382.8 L596.5,386.2" stroke="#8c8c8c" stroke-width="0.9" fill="none" />
<ellipse cx="501.5" cy="418" rx="5.2" ry="5.6" fill="#fff" stroke="#8c8c8c" stroke-width="1.3"/>
<path d="M465.6,419.8 L489.7,406.9 L492.2,408.2 L497.4,416.3 L497.4,423.2 L489.7,429.2 L481.1,434.4 L474.2,437.8 Z" stroke="#8c8c8c" stroke-width="1.3" fill="#fff" />
<path d="M477.5,413.5 L483,432 M480.5,412 L486,430.5 M483.5,410.5 L489.5,428.8 M485.5,413.8 L493.5,409.5 L496.2,420.8 L488.5,425.8 Z M478,419 C477,420 477.5,421.5 478.5,421.8" stroke="#8c8c8c" stroke-width="0.9" fill="none" />
<circle cx="484.5" cy="429.5" r="1.6" fill="#fff" stroke="#8c8c8c" stroke-width="0.9"/>
<ellipse cx="469" cy="428.8" rx="8.2" ry="9.2" transform="rotate(-30 469 428.8)" fill="#fff" stroke="#8c8c8c" stroke-width="1.3"/>
<ellipse cx="466.6" cy="430.2" rx="5.3" ry="5.8" transform="rotate(-30 466.6 430.2)" fill="#fff" stroke="#8c8c8c" stroke-width="1.2"/>
<path d="M175.6,388.75 L177.5,386.9 L188.75,385 L193.75,376.9 L199.4,376.25 L200.3,377.6 L226.9,373.75 L228.1,370 L241.25,368.75 L245.6,374.4 L244.4,378.75 L235,381.25 L233.75,385 L235.6,390.6 L235,392.5 L185,401.9 C183,402.2 181.3,401.2 180.3,399.8 L176.9,391.9 Z" stroke="#8c8c8c" stroke-width="1.3" fill="#fff" />
<path d="M177.5,388.9 L183.75,396.9 L234.6,390.6 M188.75,385 L191.5,389 M193.75,376.9 L195.5,385 L197,394.2 L223.8,389.4 L225,381.5 L204.4,383.8 L200.3,377.6 M204.4,383.8 L205.2,386.5 M225,381.5 L229.5,387.8 M226.9,373.75 L231,380 L235,381.25 M231,380 L229.5,387.8" stroke="#8c8c8c" stroke-width="1.0" fill="none" />
<circle cx="185.6" cy="391.9" r="1.5" fill="none" stroke="#8c8c8c" stroke-width="0.9"/>
<path d="M206.5,414.4 L223.5,412.4 C224.8,412.3 225.6,414 225.7,416 C225.8,418 225.2,420 223.8,420.1 L206.8,421.9 C205.5,422 204.7,420.3 204.6,418.2 C204.5,416 205.2,414.5 206.5,414.4Z" stroke="#8c8c8c" stroke-width="1.3" fill="#fff" />
<path d="M225.5,413.8 L227.5,413.7 C228.7,413.7 229.2,415 229.2,416.3 C229.2,417.6 228.7,418.8 227.5,418.8 L225.5,419" stroke="#8c8c8c" stroke-width="1.3" fill="none" />
<path d="M204.6,416.3 L199,417 L198.8,421 L204.7,420.4 M199,417 C196.5,416.6 194.3,417.6 194.2,419.4 C194.1,421.2 196.3,422.1 198.8,421" stroke="#8c8c8c" stroke-width="1.3" fill="none" />
<path d="M197,417.3 C196.2,418.3 196.2,420 197,421" stroke="#8c8c8c" stroke-width="0.9" fill="none" />
</svg>
</body></html>
